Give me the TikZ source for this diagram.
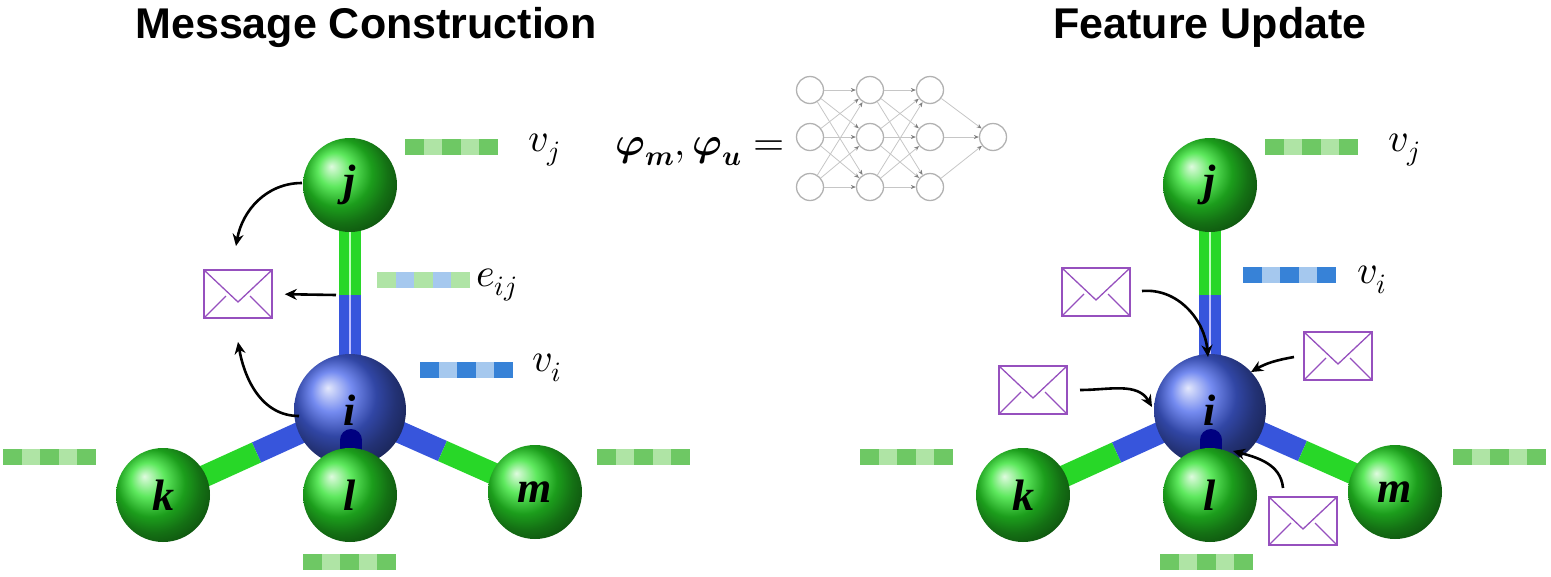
\documentclass[tikz,border=0pt]{standalone}
\usepackage{amsmath}
\usepackage{fontspec}
\usepackage{unicode-math}
\setmathfont{Latin Modern Math}
\newfontfamily\titlefont{Liberation Sans}
\newfontfamily\atomfont{Liberation Serif}
\usetikzlibrary{arrows.meta,calc}
\definecolor{gA}{RGB}{110,200,100}
\definecolor{gB}{RGB}{175,228,165}
\definecolor{bA}{RGB}{55,130,215}
\definecolor{bB}{RGB}{165,200,238}
\definecolor{bondG}{RGB}{40,215,40}
\definecolor{bondB}{RGB}{55,85,220}
\definecolor{envc}{RGB}{150,80,190}
\definecolor{ballG}{RGB}{40,225,40}
\definecolor{ballB}{RGB}{70,100,235}
\tikzset{
  atomG/.style={circle,minimum size=94pt,inner sep=0pt,ball color=ballG,font=\atomfont\bfseries\itshape\fontsize{44}{44}\selectfont},
  atomB/.style={circle,minimum size=112pt,inner sep=0pt,ball color=ballB,font=\atomfont\bfseries\itshape\fontsize{44}{44}\selectfont},
  env/.style={draw=envc,line width=1.6pt,minimum width=68pt,minimum height=48pt,inner sep=0pt,
    path picture={\draw[envc,line width=1.3pt]
      (path picture bounding box.north west)--([yshift=-8pt]path picture bounding box.center)--(path picture bounding box.north east)
      (path picture bounding box.south west)--([xshift=-12pt,yshift=-2pt]path picture bounding box.center)
      (path picture bounding box.south east)--([xshift=12pt,yshift=-2pt]path picture bounding box.center);}},
  flow/.style={-{Stealth[length=12pt,width=11pt]},line width=2.6pt},
  lab/.style={font=\fontsize{40}{42}\selectfont,anchor=west,inner sep=0pt},
  title/.style={font=\titlefont\bfseries\fontsize{43}{45}\selectfont},
  nn/.style={circle,draw=gray!60,line width=1.3pt,minimum size=27pt,inner sep=0pt},
  nnedge/.style={gray!45,line width=0.8pt,-{Stealth[length=5pt,width=4pt,gray]}},
  bondw/.style={line width=22pt},
}
\newcommand\fbar[7]{%
  \foreach \c [count=\n from 0] in {#3,#4,#5,#6,#7}
    \fill[\c] ({#1+\n*18.6},#2) rectangle ({#1+(\n+1)*18.6},{#2+16});}
\newcommand\drawmol[2]{%
  \begin{scope}[xshift=#2]
  \coordinate (#1-jc) at (350,185); \coordinate (#1-ic) at (350,410);
  \coordinate (#1-kc) at (163,495); \coordinate (#1-lc) at (350,495); \coordinate (#1-mc) at (535,492);
  \draw[bondw,bondG] (#1-jc)--(350,295);
  \draw[bondw,bondB] (350,295)--(#1-ic);
  \draw[green!25!white,line width=2pt] (350,225)--(350,295);
  \draw[blue!25!white,line width=2pt] (350,295)--(350,360);
  \draw[bondw,bondB] (#1-ic)--($(#1-ic)!0.5!(#1-kc)$);
  \draw[bondw,bondG] ($(#1-ic)!0.5!(#1-kc)$)--(#1-kc);
  \draw[bondw,bondB] (#1-ic)--($(#1-ic)!0.5!(#1-mc)$);
  \draw[bondw,bondG] ($(#1-ic)!0.5!(#1-mc)$)--(#1-mc);
  \node[atomB] (#1-i) at (#1-ic) {i};
  \fill[blue!50!black] (340,460) rectangle (362,440) ;
  \fill[blue!50!black] (351,440) circle (11);
  \node[atomG] (#1-j) at (#1-jc) {j};
  \node[atomG] (#1-k) at (#1-kc) {k};
  \node[atomG] (#1-l) at (#1-lc) {l};
  \node[atomG] (#1-m) at (#1-mc) {m};
  \end{scope}}
\begin{document}
\begin{tikzpicture}[x=1pt,y=-1pt]
\useasboundingbox (0,0) rectangle (1551,576);
\node[title] (t1) at (366,27) {Message Construction};
\node[title] (t2) at (1210,27) {Feature Update};
\drawmol{L}{0}
\drawmol{R}{860}
% left bars
\fbar{405}{139}{gA}{gB}{gA}{gB}{gA}
\node[lab] (lvj) at (528,150) {$v_j$};
\fbar{377}{272}{gB}{bB}{gB}{bB}{gB}
\node[lab] (leij) at (476,285) {$e_{ij}$};
\fbar{420}{362}{bA}{bB}{bA}{bB}{bA}
\node[lab] (lvi) at (532,368) {$v_i$};
\fbar{3}{449}{gA}{gB}{gA}{gB}{gA}
\fbar{597}{449}{gA}{gB}{gA}{gB}{gA}
\fbar{303}{554}{gA}{gB}{gA}{gB}{gA}
% right bars
\fbar{1265}{139}{gA}{gB}{gA}{gB}{gA}
\node[lab] (rvj) at (1388,150) {$v_j$};
\fbar{1243}{267}{bA}{bB}{bA}{bB}{bA}
\node[lab] (rvi) at (1357,280) {$v_i$};
\fbar{860}{449}{gA}{gB}{gA}{gB}{gA}
\fbar{1453}{449}{gA}{gB}{gA}{gB}{gA}
\fbar{1160}{554}{gA}{gB}{gA}{gB}{gA}
% left envelope and arrows
\node[env] (le) at (238,294) {};
\coordinate (ljs) at (302,183); \coordinate (lje) at (236,246);
\draw[flow] (ljs) to[out=180,in=80] (lje);
\coordinate (lbs) at (336,295);
\draw[flow,shorten >=12pt] (lbs) -- (le.east);
\coordinate (lis) at (299,416); \coordinate (lie) at (238,342);
\draw[flow] (lis) to[out=180,in=-80] (lie);
% right envelopes
\node[env] (re1) at (1096,292) {};
\node[env] (re2) at (1338,356) {};
\node[env] (re3) at (1033,390) {};
\node[env] (re4) at (1303,521) {};
\coordinate (a1) at (1142,291); \coordinate (a1e) at (1208,357);
\draw[flow] (a1) to[out=5,in=95] (a1e);
\coordinate (a2) at (1294,357); \coordinate (a2e) at (1251,372);
\draw[flow] (a2) to[out=190,in=30] (a2e);
\coordinate (a3) at (1080,390); \coordinate (a3e) at (1152,407);
\draw[flow] (a3) to[out=0,in=120] (a3e);
\coordinate (a4) at (1283,488); \coordinate (a4e) at (1233,451);
\draw[flow] (a4) to[out=95,in=-15] (a4e);
% formula and NN
\node[font=\fontsize{40}{42}\selectfont] (phi) at (700,152) {$\symbfit{\varphi}_{\symbfit{m}}, \symbfit{\varphi}_{\symbfit{u}} =$};
\foreach \cx [count=\c] in {810,870,930}{
  \foreach \cy [count=\r] in {90,137,187}{
    \node[nn] (n\c\r) at (\cx,\cy) {};}}
\node[nn] (out) at (993,137) {};
\foreach \a in {1,2}{
  \pgfmathtruncatemacro\b{\a+1}
  \foreach \r in {1,2,3}{\foreach \s in {1,2,3}{
    \draw[nnedge] (n\a\r) -- (n\b\s);}}}
\foreach \r in {1,2,3}{\draw[nnedge] (n3\r) -- (out);}
\end{tikzpicture}
\end{document}
